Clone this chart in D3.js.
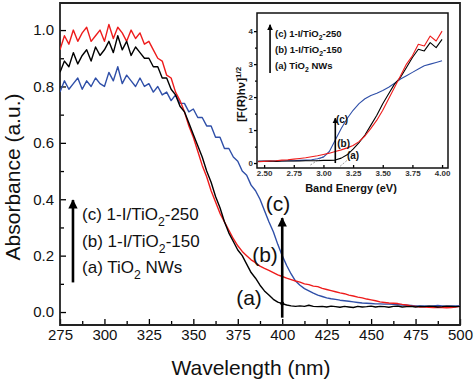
<!DOCTYPE html>
<html>
<head>
<meta charset="utf-8">
<script src="https://cdn.jsdelivr.net/npm/d3@7"></script>
<style>
  body { margin: 0; background: #fff; }
  svg { display: block; font-family: Arial, "Liberation Sans", sans-serif; }
</style>
</head>
<body>
<div id="chart"></div>
<script>
"use strict"

// main panel: absorbance vs wavelength
const wavelength = [
  275, 277.5, 280, 282.5, 285, 287.5, 290, 292.5, 295, 297.5,
  300, 302.5, 305, 307.5, 310, 312.5, 315, 317.5, 320, 322.5,
  325, 327.5, 330, 332.5, 335, 337.5, 340, 342.5, 345, 347.5,
  350, 352.5, 355, 357.5, 360, 362.5, 365, 367.5, 370, 372.5,
  375, 377.5, 380, 382.5, 385, 387.5, 390, 392.5, 395, 397.5,
  400, 402.5, 405, 407.5, 410, 412.5, 415, 417.5, 420, 422.5,
  425, 427.5, 430, 432.5, 435, 437.5, 440, 442.5, 445, 447.5,
  450, 452.5, 455, 457.5, 460, 462.5, 465, 467.5, 470, 472.5,
  475, 477.5, 480, 482.5, 485, 487.5, 490, 492.5, 495, 497.5,
  500
]

// (a) TiO2 NWs
const absA = [
  0.85, 0.89, 0.87, 0.92, 0.88, 0.91, 0.93, 0.89, 0.94, 0.91,
  0.93, 0.96, 0.92, 0.98, 0.93, 0.96, 0.91, 0.94, 0.92, 0.90,
  0.90, 0.87, 0.87, 0.83, 0.83, 0.79, 0.77, 0.73, 0.71, 0.67,
  0.63, 0.59, 0.55, 0.50, 0.46, 0.41, 0.37, 0.32, 0.28, 0.25,
  0.22, 0.20, 0.17, 0.14, 0.12, 0.095, 0.075, 0.06, 0.045, 0.035,
  0.030, 0.025, 0.022, 0.020, 0.022, 0.020, 0.024, 0.020, 0.019, 0.020,
  0.018, 0.021, 0.019, 0.017, 0.020, 0.018, 0.016, 0.020, 0.018, 0.019,
  0.021, 0.018, 0.020, 0.019, 0.017, 0.020, 0.021, 0.018, 0.019, 0.020,
  0.018, 0.020, 0.019, 0.021, 0.020, 0.018, 0.019, 0.021, 0.020, 0.019,
  0.020
]

// (b) 1-I/TiO2-150
const absB = [
  0.93, 0.98, 0.95, 1.00, 0.96, 0.99, 1.01, 0.96, 0.98, 1.00,
  0.96, 1.02, 0.97, 1.01, 0.99, 0.96, 1.00, 0.97, 0.99, 0.95,
  0.96, 0.93, 0.90, 0.89, 0.84, 0.83, 0.78, 0.75, 0.71, 0.66,
  0.62, 0.57, 0.52, 0.48, 0.43, 0.39, 0.35, 0.32, 0.29, 0.26,
  0.235, 0.215, 0.20, 0.185, 0.175, 0.163, 0.155, 0.148, 0.140, 0.132,
  0.126, 0.120, 0.115, 0.110, 0.106, 0.100, 0.097, 0.092, 0.090, 0.084,
  0.080, 0.076, 0.072, 0.068, 0.065, 0.060, 0.057, 0.053, 0.050, 0.046,
  0.043, 0.040, 0.036, 0.034, 0.032, 0.031, 0.030, 0.027, 0.025, 0.022,
  0.020, 0.018, 0.018, 0.017, 0.016, 0.017, 0.016, 0.015, 0.016, 0.018,
  0.020
]

// (c) 1-I/TiO2-250
const absC = [
  0.78, 0.82, 0.79, 0.81, 0.83, 0.79, 0.82, 0.80, 0.83, 0.81,
  0.80, 0.85, 0.82, 0.87, 0.81, 0.84, 0.82, 0.80, 0.83, 0.80,
  0.81, 0.78, 0.80, 0.77, 0.78, 0.75, 0.77, 0.74, 0.74, 0.71,
  0.72, 0.69, 0.69, 0.66, 0.66, 0.62, 0.62, 0.58, 0.58, 0.55,
  0.535, 0.50, 0.485, 0.45, 0.43, 0.40, 0.36, 0.32, 0.285, 0.24,
  0.20, 0.165, 0.135, 0.110, 0.095, 0.083, 0.075, 0.067, 0.060, 0.055,
  0.050, 0.047, 0.045, 0.042, 0.040, 0.038, 0.036, 0.034, 0.032, 0.031,
  0.030, 0.029, 0.029, 0.028, 0.028, 0.027, 0.026, 0.025, 0.024, 0.023,
  0.022, 0.022, 0.022, 0.021, 0.022, 0.023, 0.022, 0.021, 0.022, 0.022,
  0.022
]

const wavelengthTicks = [275, 300, 325, 350, 375, 400, 425, 450, 475, 500]
const wavelengthMinor = [287.5, 312.5, 337.5, 362.5, 387.5, 412.5, 437.5, 462.5, 487.5]
const absTicks = [0, 0.2, 0.4, 0.6, 0.8, 1.0]
const absMinor = [0.1, 0.3, 0.5, 0.7, 0.9]

// inset: Kubelka-Munk vs band energy
const energy = [
  2.45, 2.50, 2.55, 2.60, 2.65, 2.70, 2.75, 2.80, 2.85, 2.90,
  2.95, 3.00, 3.05, 3.10, 3.15, 3.20, 3.25, 3.30, 3.35, 3.40,
  3.45, 3.50, 3.55, 3.60, 3.65, 3.70, 3.75, 3.80, 3.85, 3.90,
  3.95, 4.00
]
const kmA = [
  0.05, 0.05, 0.06, 0.05, 0.06, 0.06, 0.06, 0.06, 0.07, 0.07,
  0.07, 0.08, 0.08, 0.09, 0.15, 0.25, 0.42, 0.62, 0.85, 1.15,
  1.45, 1.80, 2.10, 2.40, 2.60, 2.90, 3.20, 3.45, 3.40, 3.65,
  3.50, 3.75
]
const kmB = [
  0.04, 0.05, 0.06, 0.07, 0.09, 0.10, 0.12, 0.14, 0.16, 0.19,
  0.22, 0.26, 0.30, 0.35, 0.40, 0.46, 0.53, 0.65, 0.82, 1.05,
  1.30, 1.60, 1.95, 2.30, 2.65, 3.00, 3.25, 3.60, 3.55, 3.85,
  3.70, 4.00
]
const kmC = [
  0.05, 0.06, 0.05, 0.06, 0.06, 0.07, 0.07, 0.08, 0.09, 0.10,
  0.13, 0.18, 0.35, 0.70, 1.05, 1.35, 1.60, 1.80, 1.95, 2.05,
  2.12, 2.20, 2.30, 2.42, 2.55, 2.65, 2.75, 2.85, 2.95, 3.00,
  3.05, 3.10
]
const energyTicks = [2.5, 2.75, 3.0, 3.25, 3.5, 3.75, 4.0]
const kmTicks = [0, 1, 2, 3, 4]
const kmMinor = [0.5, 1.5, 2.5, 3.5]
const tangentC = [[2.89, -0.06], [3.0, 0.2]]
const tangentA = [[3.14, -0.1], [3.28, 0.33]]

const colors = { a: "#000000", b: "#ee1c1c", c: "#2f4fa8" }

const width = 474, height = 381

const svg = d3.select("#chart").append("svg")
  .attr("width", width)
  .attr("height", height)

const x = d3.scaleLinear().domain([275, 500]).range([60, 460])
const y = d3.scaleLinear().domain([-0.046, 1.096]).range([325, 3])

svg.append("defs").append("clipPath").attr("id", "mainClip")
  .append("rect")
    .attr("x", 60).attr("y", 3).attr("width", 400).attr("height", 322)

svg.select("defs").append("marker")
  .attr("id", "head")
  .attr("viewBox", "0 0 10 10")
  .attr("refX", 9).attr("refY", 5)
  .attr("markerWidth", 3.6).attr("markerHeight", 4.4)
  .attr("markerUnits", "strokeWidth")
  .attr("orient", "auto")
  .append("path")
    .attr("d", "M0,0 L10,5 L0,10 Z")
    .attr("fill", "#000")

// main axes, ticks pointing inward
function styleAxis(g, size) {
  g.select(".domain").remove()
  g.selectAll(".tick line").attr("stroke", "#000").attr("stroke-width", 1.3)
  g.selectAll(".tick text").attr("fill", "#111").style("font-size", size + "px")
}

svg.append("g")
  .attr("transform", "translate(0,325)")
  .call(d3.axisBottom(x).tickValues(wavelengthTicks).tickSize(-6).tickPadding(4).tickFormat(d3.format("d")))
  .call((g) => styleAxis(g, 15))

svg.append("g")
  .attr("transform", "translate(0,325)")
  .call(d3.axisBottom(x).tickValues(wavelengthMinor).tickSize(-4).tickFormat(""))
  .call((g) => styleAxis(g, 15))

svg.append("g")
  .attr("transform", "translate(60,0)")
  .call(d3.axisLeft(y).tickValues(absTicks).tickSize(-6).tickPadding(6).tickFormat(d3.format(".1f")))
  .call((g) => styleAxis(g, 15))

svg.append("g")
  .attr("transform", "translate(60,0)")
  .call(d3.axisLeft(y).tickValues(absMinor).tickSize(-4).tickFormat(""))
  .call((g) => styleAxis(g, 15))

// frame
svg.append("path")
  .attr("d", "M460,3 H60 V325 H460 Z")
  .attr("fill", "none")
  .attr("stroke", "#222")
  .attr("stroke-width", 1.8)

const line = d3.line()
  .x((d) => x(d[0]))
  .y((d) => y(d[1]))

const mainSeries = [
  { key: "c", values: absC },
  { key: "b", values: absB },
  { key: "a", values: absA }
]

svg.append("g")
  .attr("clip-path", "url(#mainClip)")
  .selectAll("path")
  .data(mainSeries)
  .enter()
    .append("path")
    .attr("fill", "none")
    .attr("stroke", (d) => colors[d.key])
    .attr("stroke-width", 1.4)
    .attr("stroke-linejoin", "round")
    .attr("d", (d) => line(wavelength.map((w, i) => [w, d.values[i]])))

// text helper for subscripts
function richText(sel, parts, size) {
  let shifted = false
  for (let [s, sub] of parts) {
    let dy = sub ? size * 0.32 : (shifted ? -size * 0.32 : 0)
    sel.append("tspan")
      .attr("dy", dy)
      .style("font-size", sub ? (size * 0.72) + "px" : size + "px")
      .text(s)
    shifted = sub
  }
}

const legendRows = [
  { parts: [["(c) 1-I/TiO", false], ["2", true], ["-250", false]], v: 0.326 },
  { parts: [["(b) 1-I/TiO", false], ["2", true], ["-150", false]], v: 0.23 },
  { parts: [["(a) TiO", false], ["2", true], [" NWs", false]], v: 0.138 }
]

legendRows.forEach((row) => {
  let t = svg.append("text")
    .attr("x", x(287.4))
    .attr("y", y(row.v))
    .attr("fill", "#111")
  richText(t, row.parts, 17)
})

// legend arrow
svg.append("line")
  .attr("x1", x(282.3)).attr("y1", y(0.105))
  .attr("x2", x(282.3)).attr("y2", y(0.397))
  .attr("stroke", "#000").attr("stroke-width", 2.6)
  .attr("marker-end", "url(#head)")

// arrow at 400 nm
svg.append("line")
  .attr("x1", x(400)).attr("y1", y(-0.02))
  .attr("x2", x(400)).attr("y2", y(0.333))
  .attr("stroke", "#000").attr("stroke-width", 2.6)
  .attr("marker-end", "url(#head)")

svg.append("circle")
  .attr("cx", x(400)).attr("cy", y(0.03)).attr("r", 2)
  .attr("fill", "#000")

const curveLabels = [
  { text: "(c)", w: 397.6, v: 0.358 },
  { text: "(b)", w: 390.3, v: 0.177 },
  { text: "(a)", w: 381.3, v: 0.025 }
]

svg.selectAll("text.curveLabel")
  .data(curveLabels)
  .enter()
    .append("text")
    .attr("class", "curveLabel")
    .attr("x", (d) => x(d.w))
    .attr("y", (d) => y(d.v))
    .attr("text-anchor", "middle")
    .style("font-size", "21px")
    .attr("fill", "#111")
    .text((d) => d.text)

// axis titles
svg.append("text")
  .attr("x", 251).attr("y", 375)
  .attr("text-anchor", "middle")
  .style("font-size", "21px")
  .attr("fill", "#111")
  .text("Wavelength (nm)")

svg.append("text")
  .attr("transform", "translate(20,177) rotate(-90)")
  .attr("text-anchor", "middle")
  .style("font-size", "21px")
  .attr("fill", "#111")
  .text("Absorbance (a.u.)")

// ---- inset ----
const ix = d3.scaleLinear().domain([2.44, 4.05]).range([257, 448])
const iy = d3.scaleLinear().domain([-0.15, 4.55]).range([168, 13])

const inset = svg.append("g").attr("class", "inset")

inset.append("rect")
  .attr("x", 257).attr("y", 13).attr("width", 191).attr("height", 155)
  .attr("fill", "#fff")

svg.select("defs").append("clipPath").attr("id", "insetClip")
  .append("rect")
    .attr("x", 257).attr("y", 13).attr("width", 191).attr("height", 155)

inset.append("g")
  .attr("transform", "translate(0,168)")
  .call(d3.axisBottom(ix).tickValues(energyTicks).tickSize(-3).tickPadding(2).tickFormat(d3.format(".2f")))
  .call((g) => styleAxis(g, 8))
  .call((g) => g.selectAll(".tick text").style("font-weight", "bold").attr("fill", "#333"))

inset.append("g")
  .attr("transform", "translate(257,0)")
  .call(d3.axisLeft(iy).tickValues(kmTicks).tickSize(3).tickPadding(1).tickFormat(d3.format("d")))
  .call((g) => styleAxis(g, 8))
  .call((g) => g.selectAll(".tick text").style("font-weight", "bold").attr("fill", "#333"))

inset.append("g")
  .attr("transform", "translate(257,0)")
  .call(d3.axisLeft(iy).tickValues(kmMinor).tickSize(2).tickFormat(""))
  .call((g) => styleAxis(g, 8))

const iline = d3.line()
  .x((d) => ix(d[0]))
  .y((d) => iy(d[1]))

const insetSeries = [
  { key: "c", values: kmC },
  { key: "a", values: kmA },
  { key: "b", values: kmB }
]

const insetPlot = inset.append("g").attr("clip-path", "url(#insetClip)")

insetPlot.selectAll("path.tangent")
  .data([tangentC, tangentA])
  .enter()
    .append("path")
    .attr("class", "tangent")
    .attr("fill", "none")
    .attr("stroke", "#888")
    .attr("stroke-width", 0.8)
    .attr("stroke-dasharray", "2 1.5")
    .attr("d", iline)

insetPlot.selectAll("path.series")
  .data(insetSeries)
  .enter()
    .append("path")
    .attr("class", "series")
    .attr("fill", "none")
    .attr("stroke", (d) => colors[d.key])
    .attr("stroke-width", 1.1)
    .attr("stroke-linejoin", "round")
    .attr("d", (d) => iline(energy.map((e, i) => [e, d.values[i]])))

inset.append("rect")
  .attr("x", 257).attr("y", 13).attr("width", 191).attr("height", 155)
  .attr("fill", "none")
  .attr("stroke", "#111")
  .attr("stroke-width", 1.5)

// inset arrows
inset.append("line")
  .attr("x1", ix(3.1)).attr("y1", iy(0))
  .attr("x2", ix(3.1)).attr("y2", iy(1.36))
  .attr("stroke", "#000").attr("stroke-width", 1.6)
  .attr("marker-end", "url(#head)")

inset.append("line")
  .attr("x1", ix(2.55)).attr("y1", iy(2.73))
  .attr("x2", ix(2.55)).attr("y2", iy(4.19))
  .attr("stroke", "#000").attr("stroke-width", 1.6)
  .attr("marker-end", "url(#head)")

const insetLegend = [
  { parts: [["(c) 1-I/TiO", false], ["2", true], ["-250", false]], v: 3.82 },
  { parts: [["(b) 1-I/TiO", false], ["2", true], ["-150", false]], v: 3.34 },
  { parts: [["(a) TiO", false], ["2", true], [" NWs", false]], v: 2.85 }
]

insetLegend.forEach((row) => {
  let t = inset.append("text")
    .attr("x", ix(2.592))
    .attr("y", iy(row.v))
    .attr("fill", "#111")
    .style("font-weight", "bold")
  richText(t, row.parts, 9.5)
})

const insetLabels = [
  { text: "(c)", e: 3.157, v: 1.2 },
  { text: "(b)", e: 3.17, v: 0.5 },
  { text: "(a)", e: 3.25, v: 0.12 }
]

inset.selectAll("text.curveLabel")
  .data(insetLabels)
  .enter()
    .append("text")
    .attr("class", "curveLabel")
    .attr("x", (d) => ix(d.e))
    .attr("y", (d) => iy(d.v))
    .attr("text-anchor", "middle")
    .style("font-size", "10px")
    .style("font-weight", "bold")
    .attr("fill", "#111")
    .text((d) => d.text)

inset.append("text")
  .attr("x", 351).attr("y", 192)
  .attr("text-anchor", "middle")
  .style("font-size", "11px")
  .style("font-weight", "bold")
  .attr("fill", "#111")
  .text("Band Energy (eV)")

let ylab = inset.append("text")
  .attr("transform", "translate(245,122) rotate(-90)")
  .style("font-size", "11.5px")
  .style("font-weight", "bold")
  .attr("fill", "#111")
ylab.append("tspan").text("[F(R)hν]")
ylab.append("tspan").attr("dy", -4.5).style("font-size", "8px").text("1/2")
</script>
</body>
</html>
